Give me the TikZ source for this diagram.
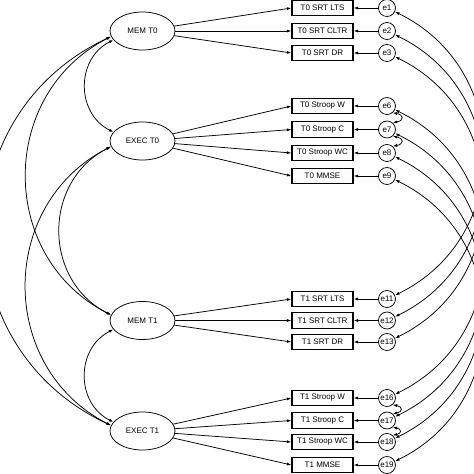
\documentclass[tikz,border=0pt]{standalone}
\usepackage{fontspec}
\setmainfont{Liberation Sans}
\usetikzlibrary{positioning, arrows.meta, shapes.geometric}

\begin{document}
\begin{tikzpicture}[x=1pt, y=1pt,
  latent/.style = {draw, ellipse, minimum width=65pt, minimum height=38pt, inner sep=0pt},
  obs/.style = {draw, line width=1.2pt, minimum width=61pt, minimum height=15.5pt, inner sep=0pt},
  err/.style = {draw, circle, minimum size=17pt, inner sep=0pt},
  load/.style = {->},
  cov/.style = {<->},
  >={Latex[length=4.5pt, width=3pt]}, line width=0.75pt, font=\fontsize{8}{9.5}\selectfont ]

\useasboundingbox (0,0) rectangle (474,474);
\clip (0,0) rectangle (474,474);

% latent factors
\node[latent] (mem0)  at (142.5,443)   {MEM T0};
\node[latent] (exec0) at (142.5,333)   {EXEC T0};
\node[latent] (mem1)  at (142.5,153.5) {MEM T1};
\node[latent] (exec1) at (142.5,43)    {EXEC T1};

% T0 indicators
\node[obs] (srtlts0)   at (322.5,466)   {T0 SRT LTS};
\node[obs] (srtcltr0)  at (322.5,443)   {T0 SRT CLTR};
\node[obs] (srtdr0)    at (322.5,421)   {T0 SRT DR};
\node[obs] (stroopw0)  at (322.5,368)   {T0 Stroop W};
\node[obs] (stroopc0)  at (322.5,344.5) {T0 Stroop C};
\node[obs] (stroopwc0) at (322.5,321)   {T0 Stroop WC};
\node[obs] (mmse0)     at (322.5,298)   {T0 MMSE};

% T1 indicators
\node[obs] (srtlts1)   at (322.5,175)   {T1 SRT LTS};
\node[obs] (srtcltr1)  at (322.5,153.5) {T1 SRT CLTR};
\node[obs] (srtdr1)    at (322.5,132)   {T1 SRT DR};
\node[obs] (stroopw1)  at (322.5,76)    {T1 Stroop W};
\node[obs] (stroopc1)  at (322.5,53.5)  {T1 Stroop C};
\node[obs] (stroopwc1) at (322.5,32)    {T1 Stroop WC};
\node[obs] (mmse1)     at (322.5,9)     {T1 MMSE};

% errors
\node[err, right=24.5pt of srtlts0]   (e1)  {e1};
\node[err, right=24.5pt of srtcltr0]  (e2)  {e2};
\node[err, right=24.5pt of srtdr0]    (e3)  {e3};
\node[err, right=24.5pt of stroopw0]  (e6)  {e6};
\node[err, right=24.5pt of stroopc0]  (e7)  {e7};
\node[err, right=24.5pt of stroopwc0] (e8)  {e8};
\node[err, right=24.5pt of mmse0]     (e9)  {e9};
\node[err, right=24.5pt of srtlts1]   (e11) {e11};
\node[err, right=24.5pt of srtcltr1]  (e12) {e12};
\node[err, right=24.5pt of srtdr1]    (e13) {e13};
\node[err, right=24.5pt of stroopw1]  (e16) {e16};
\node[err, right=24.5pt of stroopc1]  (e17) {e17};
\node[err, right=24.5pt of stroopwc1] (e18) {e18};
\node[err, right=24.5pt of mmse1]     (e19) {e19};

%--- factor -> indicators ---
\draw[load] (mem0) -- (srtlts0.west);
\draw[load] (mem0) -- (srtcltr0.west);
\draw[load] (mem0) -- (srtdr0.west);
\draw[load] (exec0) -- (stroopw0.west);
\draw[load] (exec0) -- (stroopc0.west);
\draw[load] (exec0) -- (stroopwc0.west);
\draw[load] (exec0) -- (mmse0.west);
\draw[load] (mem1) -- (srtlts1.west);
\draw[load] (mem1) -- (srtcltr1.west);
\draw[load] (mem1) -- (srtdr1.west);
\draw[load] (exec1) -- (stroopw1.west);
\draw[load] (exec1) -- (stroopc1.west);
\draw[load] (exec1) -- (stroopwc1.west);
\draw[load] (exec1) -- (mmse1.west);

%--- error -> indicator ---
\draw[load] (e1) -- (srtlts0);
\draw[load] (e2) -- (srtcltr0);
\draw[load] (e3) -- (srtdr0);
\draw[load] (e6) -- (stroopw0);
\draw[load] (e7) -- (stroopc0);
\draw[load] (e8) -- (stroopwc0);
\draw[load] (e9) -- (mmse0);
\draw[load] (e11) -- (srtlts1);
\draw[load] (e12) -- (srtcltr1);
\draw[load] (e13) -- (srtdr1);
\draw[load] (e16) -- (stroopw1);
\draw[load] (e17) -- (stroopc1);
\draw[load] (e18) -- (stroopwc1);
\draw[load] (e19) -- (mmse1);

%--- factor covariances ---
\draw[cov] (mem0.197) to[bend right=63, looseness=1.17] (exec0.163);
\draw[cov] (mem1.197) to[bend right=63, looseness=1.17] (exec1.163);
\draw[cov] (mem0.190) to[bend right=63, looseness=1.17] (mem1.170);
\draw[cov] (exec0.190) to[bend right=63, looseness=1.17] (mem1.170);
\draw[cov] (exec0.190) to[bend right=63, looseness=1.17] (exec1.170);
\draw[cov] (mem0.190) to[bend right=65, looseness=1.22] (exec1.170);

%--- error covariances over time ---
\draw[cov] (e1.-25) to[bend left=64, looseness=1.19] (e11.25);
\draw[cov] (e2.-25) to[bend left=64, looseness=1.19] (e12.25);
\draw[cov] (e3.-25) to[bend left=64, looseness=1.19] (e13.25);
\draw[cov] (e6.-25) to[bend left=64, looseness=1.19] (e16.25);
\draw[cov] (e7.-25) to[bend left=64, looseness=1.19] (e17.25);
\draw[cov] (e8.-25) to[bend left=64, looseness=1.19] (e18.25);
\draw[cov] (e9.-25) to[bend left=64, looseness=1.19] (e19.25);

%--- neighbouring Stroop errors ---
\draw[cov] (e6.-50) to[out=-10, in=10, looseness=3] (e7.50);
\draw[cov] (e7.-50) to[out=-10, in=10, looseness=3] (e8.50);
\draw[cov] (e16.-50) to[out=-10, in=10, looseness=3] (e17.50);
\draw[cov] (e17.-50) to[out=-10, in=10, looseness=3] (e18.50);

\end{tikzpicture}
\end{document}
